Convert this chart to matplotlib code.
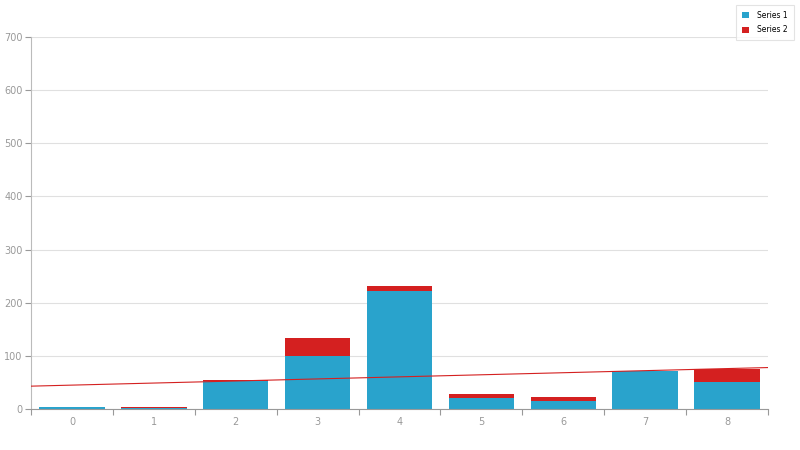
import numpy as np
import matplotlib.pyplot as plt

categories = ["0", "1", "2", "3", "4", "5", "6", "7", "8"]
series1 = [3, 1, 53, 100, 222, 21, 15, 72, 50]
series2 = [0, 2, 2, 34, 9, 8, 7, 0, 25]
trend_x = [-0.5, 8.5]
trend_y = [43, 78]

blue = "#29a3cc"
red = "#d42020"
grey = "#999999"

fig = plt.figure(figsize=(8, 4.5), dpi=100)
ax = fig.add_axes([0.03875, 0.0911, 0.92125, 0.8267])

x = np.arange(len(categories))
b1 = ax.bar(x, series1, width=0.8, color=blue, label="Series 1", zorder=2)
b2 = ax.bar(x, series2, width=0.8, bottom=series1, color=red, label="Series 2", zorder=2)
ax.plot(trend_x, trend_y, color=red, linewidth=0.8, zorder=3)

ax.set_xlim(-0.5, 8.5)
ax.set_ylim(0, 700)
ax.set_yticks(range(0, 701, 100))
ax.set_xticks(x)
ax.set_xticklabels(categories)
ax.set_xticks(np.arange(-0.5, 9, 1), minor=True)
ax.tick_params(axis="x", which="major", length=0, pad=6, labelsize=7, labelcolor=grey)
ax.tick_params(axis="x", which="minor", length=4, color=grey, width=0.8)
ax.tick_params(axis="y", length=4, color=grey, width=0.8, labelsize=7, labelcolor=grey, pad=2)

ax.grid(axis="y", color="#e0e0e0", linewidth=0.8, zorder=0)
ax.set_axisbelow(True)
for s in ["top", "right"]:
    ax.spines[s].set_visible(False)
ax.spines["left"].set_color("#bbbbbb")
ax.spines["bottom"].set_color(grey)

leg = fig.legend(handles=[b1, b2], loc="upper right", bbox_to_anchor=(0.992, 0.99),
                 fontsize=5.5, frameon=True, fancybox=False, handlelength=0.9,
                 handleheight=0.9, borderpad=0.8, labelspacing=0.75, handletextpad=1.0,
                 borderaxespad=0.0)
leg.get_frame().set_edgecolor("#dddddd")
leg.get_frame().set_linewidth(0.8)

fig.savefig("out.png", dpi=100)
